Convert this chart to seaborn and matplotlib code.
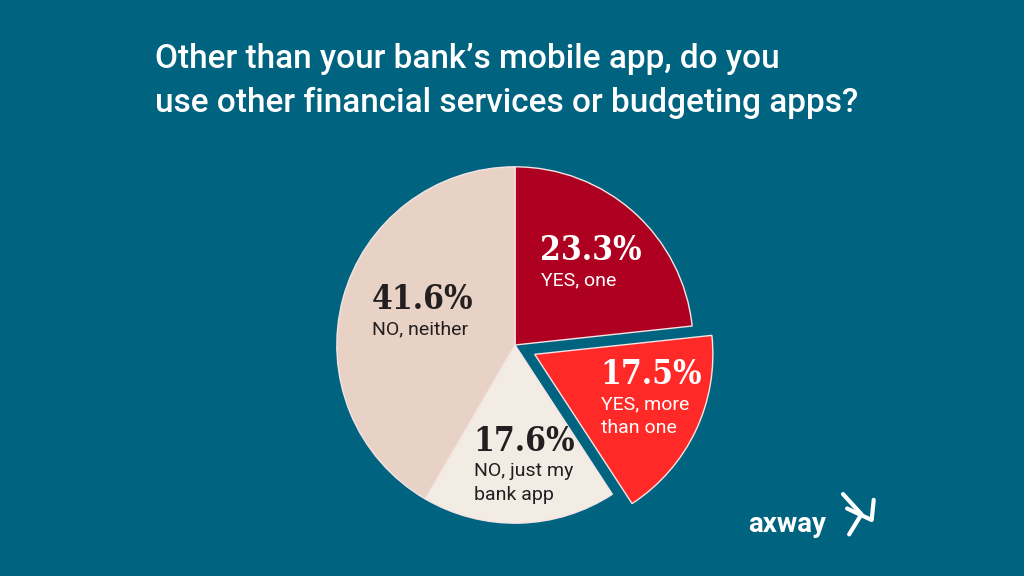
import matplotlib
matplotlib.use('Agg')
import matplotlib.pyplot as plt
import seaborn as sns

# dados do gráfico
categorias = ['YES, one', 'YES, more\nthan one', 'NO, just my\nbank app', 'NO, neither']
valores = [23.3, 17.5, 17.6, 41.6]
rotulos = ['23.3%', '17.5%', '17.6%', '41.6%']
cores = ['#AE0020', '#FF2A27', '#F3ECE4', '#E7D2C5']
cores_texto = ['white', 'white', '#231F20', '#231F20']
destaque = [0, 0.12, 0, 0]

fundo = '#00637F'
titulo = "Other than your bank\u2019s mobile app, do you\nuse other financial services or budgeting apps?"

sns.set_theme(style='white')
plt.rcParams['font.family'] = ['Roboto', 'DejaVu Sans']

fig = plt.figure(figsize=(10.24, 5.76), dpi=100, facecolor=fundo)

# eixo quadrado centrado no pie (centro ~ 515, 345 px)
ax = fig.add_axes([(515 - 200) / 1024, (576 - 345 - 200) / 576, 400 / 1024, 400 / 576])
ax.set_facecolor(fundo)
ax.pie(valores, colors=cores, startangle=90, counterclock=False, explode=destaque,
       radius=0.98, wedgeprops=dict(edgecolor='#F4E4E4', linewidth=1.0))
ax.set_xlim(-1.1, 1.1)
ax.set_ylim(-1.1, 1.1)
ax.set_aspect('equal')
ax.axis('off')

# posições dos rótulos (coordenadas do eixo do pie)
pos_rotulos = [(0.14, 0.52), (0.47, -0.16), (-0.23, -0.53), (-0.79, 0.25)]
for (x, y), pct, cat, cor in zip(pos_rotulos, rotulos, categorias, cores_texto):
    ax.text(x, y, pct, color=cor, fontsize=24, fontweight='bold', fontstretch='condensed',
            family=['DejaVu Serif'], ha='left', va='center')
    ax.text(x + 0.005, y - 0.115, cat, color=cor, fontsize=14, ha='left', va='top',
            linespacing=1.4)

# título
fig.text(155 / 1024, 1 - 43 / 576, titulo, color='white', fontsize=24,
         fontweight='medium', ha='left', va='top', linespacing=1.45)

# logo
fig.text(748 / 1024, 1 - 525 / 576, 'axway', color='white', fontsize=20,
         fontweight='bold', ha='left', va='center')
lx, ly = 843 / 1024, 1 - 520 / 576
fig.lines.append(plt.Line2D([lx, lx + 0.018, lx + 0.006], [ly + 0.045, ly + 0.01, ly - 0.025],
                            color='white', lw=3, transform=fig.transFigure))
fig.lines.append(plt.Line2D([lx + 0.004, lx + 0.028, lx + 0.03], [ly + 0.02, ly + 0.0, ly + 0.035],
                            color='white', lw=3, transform=fig.transFigure))

fig.savefig('out.png', dpi=100, facecolor=fundo)
